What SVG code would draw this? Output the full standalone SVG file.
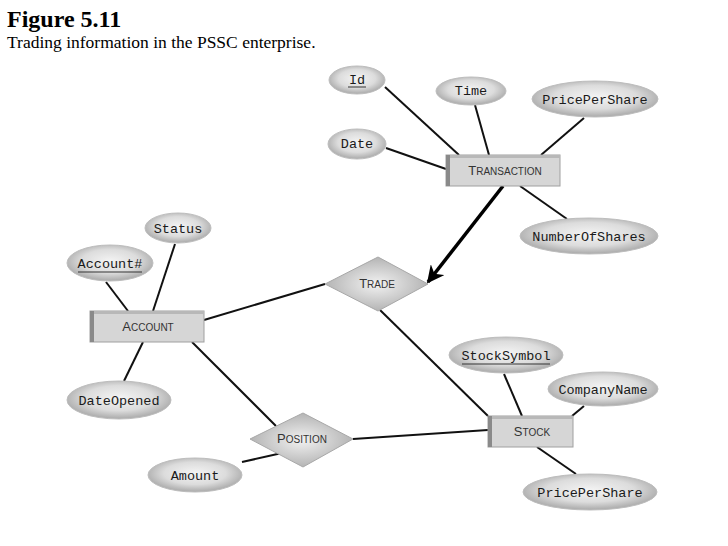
<svg xmlns="http://www.w3.org/2000/svg" width="728" height="546" viewBox="0 0 728 546">
<defs>
<radialGradient id="eg" cx="50%" cy="45%" r="55%">
<stop offset="0" stop-color="#f4f4f4"/>
<stop offset="0.6" stop-color="#dcdcdc"/>
<stop offset="1" stop-color="#a9a9a9"/>
</radialGradient>
<radialGradient id="dg" cx="50%" cy="50%" r="50%">
<stop offset="0" stop-color="#f2f2f2"/>
<stop offset="1" stop-color="#b4b4b4"/>
</radialGradient>
<marker id="ah" viewBox="0 0 10 10" refX="9" refY="5" markerWidth="5" markerHeight="5" orient="auto" markerUnits="strokeWidth">
<path d="M0,0 L10,5 L0,10 L3,5 Z" fill="#000"/>
</marker>
</defs>
<style>
.ell{fill:url(#eg);stroke:#bdbdbd;stroke-width:1}
.dia{fill:url(#dg);stroke:#a8a8a8;stroke-width:1}
.box{fill:#d6d6d6;stroke:#a0a0a0;stroke-width:1}
.side{fill:#8a8a8a}
.top{fill:#b8b8b8}
.at{font-family:"Liberation Mono","DejaVu Sans Mono",monospace;font-size:13.5px;fill:#1a1a1a;text-anchor:middle}
.et{font-family:"Liberation Sans",Arial,sans-serif;font-size:13px;fill:#333;text-anchor:middle}
.sc{font-size:10px}
.ln{stroke:#111;stroke-width:2;fill:none}
.ul{stroke:#333;stroke-width:1}
</style>
<text x="7" y="27" font-family="Liberation Serif,Times New Roman,serif" font-weight="bold" font-size="24" fill="#000">Figure 5.11</text>
<text x="7" y="48" font-family="Liberation Serif,Times New Roman,serif" font-size="17.5" fill="#000">Trading information in the PSSC enterprise.</text>

<g id="connectors">
<line class="ln" x1="385" y1="87" x2="459" y2="155"/>
<line class="ln" x1="475" y1="105" x2="489" y2="155"/>
<line class="ln" x1="584" y1="118" x2="541" y2="155"/>
<line class="ln" x1="386" y1="148" x2="446" y2="169"/>
<line class="ln" x1="520" y1="186" x2="567" y2="219"/>
<line x1="503" y1="186" x2="428" y2="282" stroke="#000" stroke-width="3.5" marker-end="url(#ah)"/>
<line class="ln" x1="106" y1="282" x2="128" y2="311"/>
<line class="ln" x1="175" y1="244" x2="153" y2="311"/>
<line class="ln" x1="204" y1="320" x2="325" y2="284"/>
<line class="ln" x1="143" y1="342" x2="124" y2="381"/>
<line class="ln" x1="192" y1="342" x2="276" y2="426"/>
<line class="ln" x1="242" y1="462" x2="282" y2="453"/>
<line class="ln" x1="353" y1="439" x2="488" y2="430"/>
<line class="ln" x1="380" y1="310" x2="488" y2="416"/>
<line class="ln" x1="504" y1="374" x2="522" y2="416"/>
<line class="ln" x1="584" y1="406" x2="572" y2="416"/>
<line class="ln" x1="537" y1="447" x2="576" y2="474"/>
</g>

<g id="transaction">
<rect class="box" x="446" y="155" width="114" height="31"/>
<rect class="top" x="446" y="155" width="114" height="3"/>
<rect class="side" x="446" y="155" width="4" height="31"/>
<text class="et" x="505" y="175">T<tspan class="sc">RANSACTION</tspan></text>
</g>
<g id="attr-id"><ellipse class="ell" cx="357" cy="80" rx="28" ry="14"/><text class="at" x="357" y="84">Id</text><line class="ul" x1="348" y1="87" x2="366" y2="87"/></g>
<g id="attr-time"><ellipse class="ell" cx="471" cy="91" rx="35" ry="14"/><text class="at" x="471" y="95">Time</text></g>
<g id="attr-pps1"><ellipse class="ell" cx="595" cy="99" rx="63" ry="18"/><text class="at" x="595" y="104">PricePerShare</text></g>
<g id="attr-date"><ellipse class="ell" cx="357" cy="144" rx="29" ry="15"/><text class="at" x="357" y="148">Date</text></g>
<g id="attr-nos"><ellipse class="ell" cx="589" cy="236" rx="69" ry="18"/><text class="at" x="589" y="241">NumberOfShares</text></g>

<g id="trade">
<polygon class="dia" points="325,284 378,257 428,284 378,311"/>
<text class="et" x="377" y="288">T<tspan class="sc">RADE</tspan></text>
</g>

<g id="account">
<rect class="box" x="90" y="311" width="114" height="31"/>
<rect class="top" x="90" y="311" width="114" height="3"/>
<rect class="side" x="90" y="311" width="4" height="31"/>
<text class="et" x="148" y="331">A<tspan class="sc">CCOUNT</tspan></text>
</g>
<g id="attr-status"><ellipse class="ell" cx="178" cy="228" rx="33" ry="15"/><text class="at" x="178" y="233">Status</text></g>
<g id="attr-accountno"><ellipse class="ell" cx="110" cy="263" rx="43" ry="18"/><text class="at" x="110" y="268">Account#</text><line class="ul" x1="78" y1="272" x2="142" y2="272"/></g>
<g id="attr-dateopened"><ellipse class="ell" cx="119" cy="400" rx="52" ry="19"/><text class="at" x="119" y="405">DateOpened</text></g>

<g id="position">
<polygon class="dia" points="250,439 303,413 353,439 303,467"/>
<text class="et" x="302" y="443">P<tspan class="sc">OSITION</tspan></text>
</g>
<g id="attr-amount"><ellipse class="ell" cx="195" cy="475" rx="47" ry="17"/><text class="at" x="195" y="480">Amount</text></g>

<g id="stock">
<rect class="box" x="488" y="416" width="85" height="31"/>
<rect class="top" x="488" y="416" width="85" height="3"/>
<rect class="side" x="488" y="416" width="4" height="31"/>
<text class="et" x="532" y="436">S<tspan class="sc">TOCK</tspan></text>
</g>
<g id="attr-stocksymbol"><ellipse class="ell" cx="506" cy="355" rx="57" ry="18"/><text class="at" x="506" y="360">StockSymbol</text><line class="ul" x1="462" y1="364" x2="550" y2="364"/></g>
<g id="attr-companyname"><ellipse class="ell" cx="603" cy="389" rx="55" ry="17"/><text class="at" x="603" y="394">CompanyName</text></g>
<g id="attr-pps2"><ellipse class="ell" cx="590" cy="492" rx="67" ry="18"/><text class="at" x="590" y="497">PricePerShare</text></g>
</svg>
